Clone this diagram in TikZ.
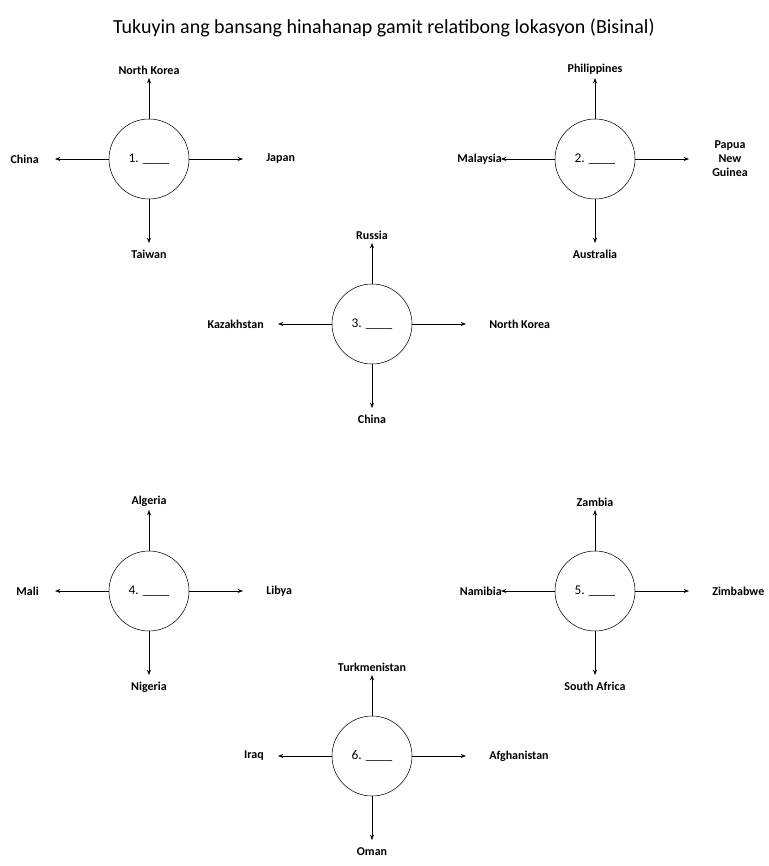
\documentclass[tikz,border=0pt]{standalone}
\usepackage{fontspec}
\setmainfont{Carlito}
\usetikzlibrary{arrows.meta, positioning}

\begin{document}
\begin{tikzpicture}[
		x=0.75pt, y=-0.75pt,
		place/.style={
			circle,
			draw=black,
			minimum size=60pt,
			inner sep=0pt,
			font=\fontsize{10}{12}\selectfont
		},
		country/.style={
			inner sep=0pt,
			align=center,
			font=\bfseries\fontsize{9}{10.5}\selectfont
		},
		arrow/.style={
			-{Stealth[length=4pt, width=3pt]}
		}
	]

	\useasboundingbox (0,0) rectangle (768,866);
	\node[font=\fontsize{15}{18}\selectfont] (title) at (384,28) {Tukuyin ang bansang hinahanap gamit relatibong lokasyon (Bisinal)};

	% n / x / y / left gap / top / bottom / left / right
	\foreach \n/\cx/\cy/\lg/\tp/\bt/\lft/\rgt in {
		1/149/159/110/North Korea/Taiwan/China/Japan,
		2/595/159/93/Philippines/Australia/Malaysia/{Papua\\New\\Guinea},
		3/372/324/108/Russia/China/Kazakhstan/North Korea,
		4/149/591/110/Algeria/Nigeria/Mali/Libya,
		5/595/591/93/Zambia/South Africa/Namibia/Zimbabwe,
		6/372/756/108/Turkmenistan/Oman/Iraq/Afghanistan}{
		\node[place] (c\n) at (\cx,\cy) {\n. \_\_\_\_};
		\coordinate (up\n) at (\cx,\cy-81);
		\coordinate (dn\n) at (\cx,\cy+84);
		\coordinate (lt\n) at (\cx-94,\cy);
		\coordinate (rt\n) at (\cx+94,\cy);
		\node[country, anchor=south] (top\n) at (\cx,\cy-84) {\tp};
		\node[country, anchor=north] (bot\n) at (\cx,\cy+91) {\bt};
		\node[country, anchor=east] (lft\n) at (\cx-\lg,\cy) {\lft};
		\node[country, anchor=west] (rgt\n) at (\cx+117,\cy) {\rgt};
		\draw[arrow] (c\n) -- (up\n);
		\draw[arrow] (c\n) -- (dn\n);
		\draw[arrow] (c\n) -- (lt\n);
		\draw[arrow] (c\n) -- (rt\n);
	}

\end{tikzpicture}
\end{document}
